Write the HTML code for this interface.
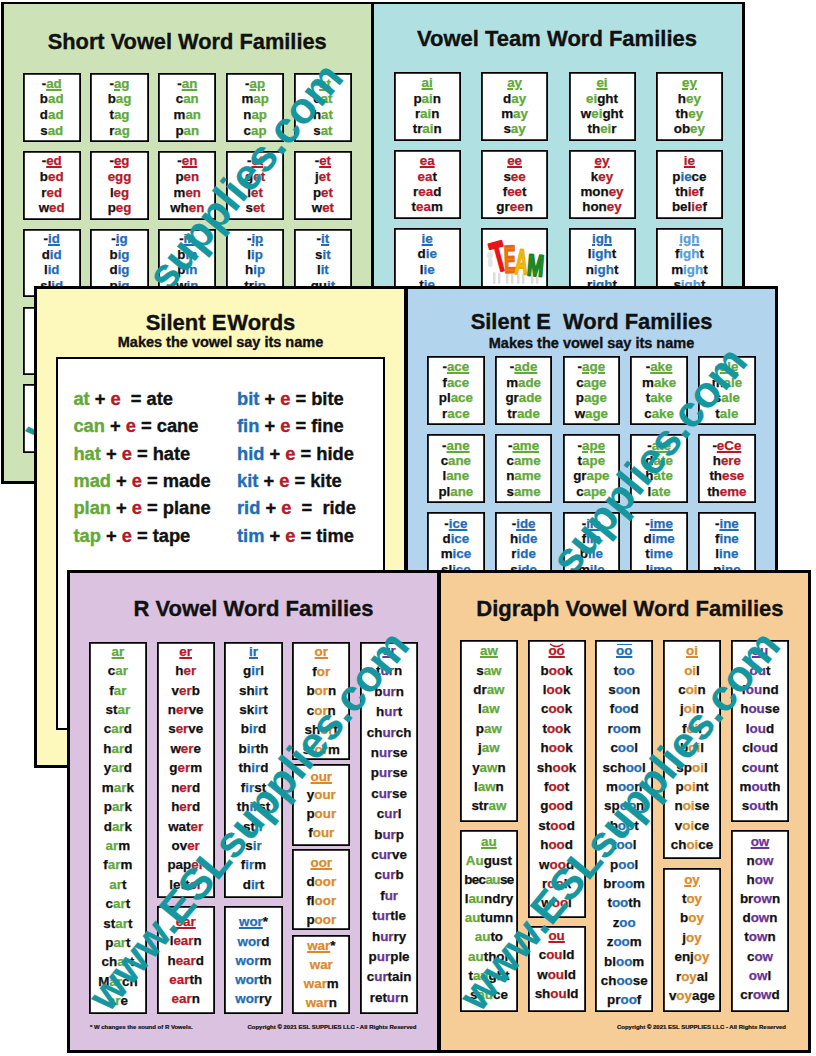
<!DOCTYPE html>
<html><head><meta charset="utf-8"><style>
html,body{margin:0;padding:0;background:#fff}
body{width:816px;height:1056px;position:relative;overflow:hidden;font-family:"Liberation Sans",sans-serif}
.tb{-webkit-text-stroke:0.25px}
.tt{-webkit-text-stroke:0.35px}
</style></head><body>
<div style="position:absolute;left:1px;top:2px;width:373px;height:482px;background:#cde3b7;box-sizing:border-box;z-index:1;overflow:hidden">
<div class="tt" style="position:absolute;left:-0.3px;width:100%;top:28.55px;text-align:center;font-size:21.8px;line-height:21.8px;font-weight:bold;color:#111;white-space:pre">Short Vowel Word Families</div>
<div style="position:absolute;left:21.50px;top:71.20px;width:58.40px;height:68.60px;box-shadow:inset 0 0 0 1.8px #000;background:#fff;box-sizing:border-box"></div>
<div class="tb" style="position:absolute;left:21.50px;top:73.57px;width:58.40px;text-align:center;font-size:13.3px;line-height:15.65px;font-weight:bold;color:#111;white-space:nowrap">
<div>-<span style="color:#62a93a;text-decoration:underline;text-decoration-thickness:1.5px;text-underline-offset:1.3px">ad</span></div>
<div>b<span style="color:#62a93a">ad</span></div>
<div>d<span style="color:#62a93a">ad</span></div>
<div>s<span style="color:#62a93a">ad</span></div>
</div>
<div style="position:absolute;left:89.30px;top:71.20px;width:58.40px;height:68.60px;box-shadow:inset 0 0 0 1.8px #000;background:#fff;box-sizing:border-box"></div>
<div class="tb" style="position:absolute;left:89.30px;top:73.57px;width:58.40px;text-align:center;font-size:13.3px;line-height:15.65px;font-weight:bold;color:#111;white-space:nowrap">
<div>-<span style="color:#62a93a;text-decoration:underline;text-decoration-thickness:1.5px;text-underline-offset:1.3px">ag</span></div>
<div>b<span style="color:#62a93a">ag</span></div>
<div>t<span style="color:#62a93a">ag</span></div>
<div>r<span style="color:#62a93a">ag</span></div>
</div>
<div style="position:absolute;left:157.10px;top:71.20px;width:58.40px;height:68.60px;box-shadow:inset 0 0 0 1.8px #000;background:#fff;box-sizing:border-box"></div>
<div class="tb" style="position:absolute;left:157.10px;top:73.57px;width:58.40px;text-align:center;font-size:13.3px;line-height:15.65px;font-weight:bold;color:#111;white-space:nowrap">
<div>-<span style="color:#62a93a;text-decoration:underline;text-decoration-thickness:1.5px;text-underline-offset:1.3px">an</span></div>
<div>c<span style="color:#62a93a">an</span></div>
<div>m<span style="color:#62a93a">an</span></div>
<div>p<span style="color:#62a93a">an</span></div>
</div>
<div style="position:absolute;left:224.90px;top:71.20px;width:58.40px;height:68.60px;box-shadow:inset 0 0 0 1.8px #000;background:#fff;box-sizing:border-box"></div>
<div class="tb" style="position:absolute;left:224.90px;top:73.57px;width:58.40px;text-align:center;font-size:13.3px;line-height:15.65px;font-weight:bold;color:#111;white-space:nowrap">
<div>-<span style="color:#62a93a;text-decoration:underline;text-decoration-thickness:1.5px;text-underline-offset:1.3px">ap</span></div>
<div>m<span style="color:#62a93a">ap</span></div>
<div>n<span style="color:#62a93a">ap</span></div>
<div>c<span style="color:#62a93a">ap</span></div>
</div>
<div style="position:absolute;left:292.70px;top:71.20px;width:58.40px;height:68.60px;box-shadow:inset 0 0 0 1.8px #000;background:#fff;box-sizing:border-box"></div>
<div class="tb" style="position:absolute;left:292.70px;top:73.57px;width:58.40px;text-align:center;font-size:13.3px;line-height:15.65px;font-weight:bold;color:#111;white-space:nowrap">
<div>-<span style="color:#62a93a;text-decoration:underline;text-decoration-thickness:1.5px;text-underline-offset:1.3px">at</span></div>
<div>c<span style="color:#62a93a">at</span></div>
<div>h<span style="color:#62a93a">at</span></div>
<div>s<span style="color:#62a93a">at</span></div>
</div>
<div style="position:absolute;left:21.50px;top:149.00px;width:58.40px;height:68.60px;box-shadow:inset 0 0 0 1.8px #000;background:#fff;box-sizing:border-box"></div>
<div class="tb" style="position:absolute;left:21.50px;top:151.37px;width:58.40px;text-align:center;font-size:13.3px;line-height:15.65px;font-weight:bold;color:#111;white-space:nowrap">
<div>-<span style="color:#b41a28;text-decoration:underline;text-decoration-thickness:1.5px;text-underline-offset:1.3px">ed</span></div>
<div>b<span style="color:#b41a28">ed</span></div>
<div>r<span style="color:#b41a28">ed</span></div>
<div>w<span style="color:#b41a28">ed</span></div>
</div>
<div style="position:absolute;left:89.30px;top:149.00px;width:58.40px;height:68.60px;box-shadow:inset 0 0 0 1.8px #000;background:#fff;box-sizing:border-box"></div>
<div class="tb" style="position:absolute;left:89.30px;top:151.37px;width:58.40px;text-align:center;font-size:13.3px;line-height:15.65px;font-weight:bold;color:#111;white-space:nowrap">
<div>-<span style="color:#b41a28;text-decoration:underline;text-decoration-thickness:1.5px;text-underline-offset:1.3px">eg</span></div>
<div><span style="color:#b41a28">egg</span></div>
<div>l<span style="color:#b41a28">eg</span></div>
<div>p<span style="color:#b41a28">eg</span></div>
</div>
<div style="position:absolute;left:157.10px;top:149.00px;width:58.40px;height:68.60px;box-shadow:inset 0 0 0 1.8px #000;background:#fff;box-sizing:border-box"></div>
<div class="tb" style="position:absolute;left:157.10px;top:151.37px;width:58.40px;text-align:center;font-size:13.3px;line-height:15.65px;font-weight:bold;color:#111;white-space:nowrap">
<div>-<span style="color:#b41a28;text-decoration:underline;text-decoration-thickness:1.5px;text-underline-offset:1.3px">en</span></div>
<div>p<span style="color:#b41a28">en</span></div>
<div>m<span style="color:#b41a28">en</span></div>
<div>wh<span style="color:#b41a28">en</span></div>
</div>
<div style="position:absolute;left:224.90px;top:149.00px;width:58.40px;height:68.60px;box-shadow:inset 0 0 0 1.8px #000;background:#fff;box-sizing:border-box"></div>
<div class="tb" style="position:absolute;left:224.90px;top:151.37px;width:58.40px;text-align:center;font-size:13.3px;line-height:15.65px;font-weight:bold;color:#111;white-space:nowrap">
<div>-<span style="color:#b41a28;text-decoration:underline;text-decoration-thickness:1.5px;text-underline-offset:1.3px">et</span></div>
<div>g<span style="color:#b41a28">et</span></div>
<div>l<span style="color:#b41a28">et</span></div>
<div>s<span style="color:#b41a28">et</span></div>
</div>
<div style="position:absolute;left:292.70px;top:149.00px;width:58.40px;height:68.60px;box-shadow:inset 0 0 0 1.8px #000;background:#fff;box-sizing:border-box"></div>
<div class="tb" style="position:absolute;left:292.70px;top:151.37px;width:58.40px;text-align:center;font-size:13.3px;line-height:15.65px;font-weight:bold;color:#111;white-space:nowrap">
<div>-<span style="color:#b41a28;text-decoration:underline;text-decoration-thickness:1.5px;text-underline-offset:1.3px">et</span></div>
<div>j<span style="color:#b41a28">et</span></div>
<div>p<span style="color:#b41a28">et</span></div>
<div>w<span style="color:#b41a28">et</span></div>
</div>
<div style="position:absolute;left:21.50px;top:226.80px;width:58.40px;height:68.60px;box-shadow:inset 0 0 0 1.8px #000;background:#fff;box-sizing:border-box"></div>
<div class="tb" style="position:absolute;left:21.50px;top:229.17px;width:58.40px;text-align:center;font-size:13.3px;line-height:15.65px;font-weight:bold;color:#111;white-space:nowrap">
<div>-<span style="color:#1f6db4;text-decoration:underline;text-decoration-thickness:1.5px;text-underline-offset:1.3px">id</span></div>
<div>d<span style="color:#1f6db4">id</span></div>
<div>l<span style="color:#1f6db4">id</span></div>
<div>sl<span style="color:#1f6db4">id</span></div>
</div>
<div style="position:absolute;left:89.30px;top:226.80px;width:58.40px;height:68.60px;box-shadow:inset 0 0 0 1.8px #000;background:#fff;box-sizing:border-box"></div>
<div class="tb" style="position:absolute;left:89.30px;top:229.17px;width:58.40px;text-align:center;font-size:13.3px;line-height:15.65px;font-weight:bold;color:#111;white-space:nowrap">
<div>-<span style="color:#1f6db4;text-decoration:underline;text-decoration-thickness:1.5px;text-underline-offset:1.3px">ig</span></div>
<div>b<span style="color:#1f6db4">ig</span></div>
<div>d<span style="color:#1f6db4">ig</span></div>
<div>p<span style="color:#1f6db4">ig</span></div>
</div>
<div style="position:absolute;left:157.10px;top:226.80px;width:58.40px;height:68.60px;box-shadow:inset 0 0 0 1.8px #000;background:#fff;box-sizing:border-box"></div>
<div class="tb" style="position:absolute;left:157.10px;top:229.17px;width:58.40px;text-align:center;font-size:13.3px;line-height:15.65px;font-weight:bold;color:#111;white-space:nowrap">
<div>-<span style="color:#1f6db4;text-decoration:underline;text-decoration-thickness:1.5px;text-underline-offset:1.3px">in</span></div>
<div>b<span style="color:#1f6db4">in</span></div>
<div>p<span style="color:#1f6db4">in</span></div>
<div>w<span style="color:#1f6db4">in</span></div>
</div>
<div style="position:absolute;left:224.90px;top:226.80px;width:58.40px;height:68.60px;box-shadow:inset 0 0 0 1.8px #000;background:#fff;box-sizing:border-box"></div>
<div class="tb" style="position:absolute;left:224.90px;top:229.17px;width:58.40px;text-align:center;font-size:13.3px;line-height:15.65px;font-weight:bold;color:#111;white-space:nowrap">
<div>-<span style="color:#1f6db4;text-decoration:underline;text-decoration-thickness:1.5px;text-underline-offset:1.3px">ip</span></div>
<div>l<span style="color:#1f6db4">ip</span></div>
<div>h<span style="color:#1f6db4">ip</span></div>
<div>tr<span style="color:#1f6db4">ip</span></div>
</div>
<div style="position:absolute;left:292.70px;top:226.80px;width:58.40px;height:68.60px;box-shadow:inset 0 0 0 1.8px #000;background:#fff;box-sizing:border-box"></div>
<div class="tb" style="position:absolute;left:292.70px;top:229.17px;width:58.40px;text-align:center;font-size:13.3px;line-height:15.65px;font-weight:bold;color:#111;white-space:nowrap">
<div>-<span style="color:#1f6db4;text-decoration:underline;text-decoration-thickness:1.5px;text-underline-offset:1.3px">it</span></div>
<div>s<span style="color:#1f6db4">it</span></div>
<div>l<span style="color:#1f6db4">it</span></div>
<div>qu<span style="color:#1f6db4">it</span></div>
</div>
<div style="position:absolute;left:21.50px;top:304.60px;width:58.40px;height:68.60px;box-shadow:inset 0 0 0 1.8px #000;background:#fff;box-sizing:border-box"></div>
<div class="tb" style="position:absolute;left:21.50px;top:306.97px;width:58.40px;text-align:center;font-size:13.3px;line-height:15.65px;font-weight:bold;color:#111;white-space:nowrap">
<div>-<span style="color:#62a93a;text-decoration:underline;text-decoration-thickness:1.5px;text-underline-offset:1.3px">og</span></div>
<div>d<span style="color:#62a93a">og</span></div>
<div>l<span style="color:#62a93a">og</span></div>
<div>fr<span style="color:#62a93a">og</span></div>
</div>
<div style="position:absolute;left:89.30px;top:304.60px;width:58.40px;height:68.60px;box-shadow:inset 0 0 0 1.8px #000;background:#fff;box-sizing:border-box"></div>
<div class="tb" style="position:absolute;left:89.30px;top:306.97px;width:58.40px;text-align:center;font-size:13.3px;line-height:15.65px;font-weight:bold;color:#111;white-space:nowrap">
<div>-<span style="color:#62a93a;text-decoration:underline;text-decoration-thickness:1.5px;text-underline-offset:1.3px">og</span></div>
<div>d<span style="color:#62a93a">og</span></div>
<div>l<span style="color:#62a93a">og</span></div>
<div>fr<span style="color:#62a93a">og</span></div>
</div>
<div style="position:absolute;left:157.10px;top:304.60px;width:58.40px;height:68.60px;box-shadow:inset 0 0 0 1.8px #000;background:#fff;box-sizing:border-box"></div>
<div class="tb" style="position:absolute;left:157.10px;top:306.97px;width:58.40px;text-align:center;font-size:13.3px;line-height:15.65px;font-weight:bold;color:#111;white-space:nowrap">
<div>-<span style="color:#62a93a;text-decoration:underline;text-decoration-thickness:1.5px;text-underline-offset:1.3px">og</span></div>
<div>d<span style="color:#62a93a">og</span></div>
<div>l<span style="color:#62a93a">og</span></div>
<div>fr<span style="color:#62a93a">og</span></div>
</div>
<div style="position:absolute;left:224.90px;top:304.60px;width:58.40px;height:68.60px;box-shadow:inset 0 0 0 1.8px #000;background:#fff;box-sizing:border-box"></div>
<div class="tb" style="position:absolute;left:224.90px;top:306.97px;width:58.40px;text-align:center;font-size:13.3px;line-height:15.65px;font-weight:bold;color:#111;white-space:nowrap">
<div>-<span style="color:#62a93a;text-decoration:underline;text-decoration-thickness:1.5px;text-underline-offset:1.3px">og</span></div>
<div>d<span style="color:#62a93a">og</span></div>
<div>l<span style="color:#62a93a">og</span></div>
<div>fr<span style="color:#62a93a">og</span></div>
</div>
<div style="position:absolute;left:292.70px;top:304.60px;width:58.40px;height:68.60px;box-shadow:inset 0 0 0 1.8px #000;background:#fff;box-sizing:border-box"></div>
<div class="tb" style="position:absolute;left:292.70px;top:306.97px;width:58.40px;text-align:center;font-size:13.3px;line-height:15.65px;font-weight:bold;color:#111;white-space:nowrap">
<div>-<span style="color:#62a93a;text-decoration:underline;text-decoration-thickness:1.5px;text-underline-offset:1.3px">og</span></div>
<div>d<span style="color:#62a93a">og</span></div>
<div>l<span style="color:#62a93a">og</span></div>
<div>fr<span style="color:#62a93a">og</span></div>
</div>
<div style="position:absolute;left:21.50px;top:382.40px;width:58.40px;height:68.60px;box-shadow:inset 0 0 0 1.8px #000;background:#fff;box-sizing:border-box"></div>
<div class="tb" style="position:absolute;left:21.50px;top:384.77px;width:58.40px;text-align:center;font-size:13.3px;line-height:15.65px;font-weight:bold;color:#111;white-space:nowrap">
<div>-<span style="color:#62a93a;text-decoration:underline;text-decoration-thickness:1.5px;text-underline-offset:1.3px">ug</span></div>
<div>b<span style="color:#62a93a">ug</span></div>
<div>m<span style="color:#62a93a">ug</span></div>
<div>r<span style="color:#62a93a">ug</span></div>
</div>
<div style="position:absolute;left:89.30px;top:382.40px;width:58.40px;height:68.60px;box-shadow:inset 0 0 0 1.8px #000;background:#fff;box-sizing:border-box"></div>
<div class="tb" style="position:absolute;left:89.30px;top:384.77px;width:58.40px;text-align:center;font-size:13.3px;line-height:15.65px;font-weight:bold;color:#111;white-space:nowrap">
<div>-<span style="color:#62a93a;text-decoration:underline;text-decoration-thickness:1.5px;text-underline-offset:1.3px">ug</span></div>
<div>b<span style="color:#62a93a">ug</span></div>
<div>m<span style="color:#62a93a">ug</span></div>
<div>r<span style="color:#62a93a">ug</span></div>
</div>
<div style="position:absolute;left:157.10px;top:382.40px;width:58.40px;height:68.60px;box-shadow:inset 0 0 0 1.8px #000;background:#fff;box-sizing:border-box"></div>
<div class="tb" style="position:absolute;left:157.10px;top:384.77px;width:58.40px;text-align:center;font-size:13.3px;line-height:15.65px;font-weight:bold;color:#111;white-space:nowrap">
<div>-<span style="color:#62a93a;text-decoration:underline;text-decoration-thickness:1.5px;text-underline-offset:1.3px">ug</span></div>
<div>b<span style="color:#62a93a">ug</span></div>
<div>m<span style="color:#62a93a">ug</span></div>
<div>r<span style="color:#62a93a">ug</span></div>
</div>
<div style="position:absolute;left:224.90px;top:382.40px;width:58.40px;height:68.60px;box-shadow:inset 0 0 0 1.8px #000;background:#fff;box-sizing:border-box"></div>
<div class="tb" style="position:absolute;left:224.90px;top:384.77px;width:58.40px;text-align:center;font-size:13.3px;line-height:15.65px;font-weight:bold;color:#111;white-space:nowrap">
<div>-<span style="color:#62a93a;text-decoration:underline;text-decoration-thickness:1.5px;text-underline-offset:1.3px">ug</span></div>
<div>b<span style="color:#62a93a">ug</span></div>
<div>m<span style="color:#62a93a">ug</span></div>
<div>r<span style="color:#62a93a">ug</span></div>
</div>
<div style="position:absolute;left:292.70px;top:382.40px;width:58.40px;height:68.60px;box-shadow:inset 0 0 0 1.8px #000;background:#fff;box-sizing:border-box"></div>
<div class="tb" style="position:absolute;left:292.70px;top:384.77px;width:58.40px;text-align:center;font-size:13.3px;line-height:15.65px;font-weight:bold;color:#111;white-space:nowrap">
<div>-<span style="color:#62a93a;text-decoration:underline;text-decoration-thickness:1.5px;text-underline-offset:1.3px">ug</span></div>
<div>b<span style="color:#62a93a">ug</span></div>
<div>m<span style="color:#62a93a">ug</span></div>
<div>r<span style="color:#62a93a">ug</span></div>
</div>
<div style="position:absolute;left:181.8px;top:251px;width:0;height:0;z-index:5"><div style="position:absolute;left:0;top:0;transform:translate(-50%,-50%) rotate(-50.5deg);font-size:43.6px;line-height:1;font-weight:bold;color:#16979f;-webkit-text-stroke:0.15px #16979f;white-space:nowrap">www.ESLsupplies.com</div></div>
<div style="position:absolute;left:0;top:0;right:0;bottom:0;border-style:solid;border-color:#000;border-width:2px 3px 3px 3px;z-index:9"></div>
</div>
<div style="position:absolute;left:372px;top:2px;width:373px;height:482px;background:#b1e0e3;box-sizing:border-box;z-index:1;overflow:hidden">
<div class="tt" style="position:absolute;left:-1.5px;width:100%;top:25.58px;text-align:center;font-size:22px;line-height:22px;font-weight:bold;color:#111;white-space:pre">Vowel Team Word Families</div>
<div style="position:absolute;left:21.70px;top:70.30px;width:67.00px;height:68.60px;box-shadow:inset 0 0 0 1.8px #000;background:#fff;box-sizing:border-box"></div>
<div class="tb" style="position:absolute;left:21.70px;top:73.26px;width:67.00px;text-align:center;font-size:13.4px;line-height:15.4px;font-weight:bold;color:#111;white-space:nowrap">
<div><span style="color:#62a93a;text-decoration:underline;text-decoration-thickness:1.5px;text-underline-offset:1.3px">ai</span></div>
<div>p<span style="color:#62a93a">ai</span>n</div>
<div>r<span style="color:#62a93a">ai</span>n</div>
<div>tr<span style="color:#62a93a">ai</span>n</div>
</div>
<div style="position:absolute;left:109.10px;top:70.30px;width:67.00px;height:68.60px;box-shadow:inset 0 0 0 1.8px #000;background:#fff;box-sizing:border-box"></div>
<div class="tb" style="position:absolute;left:109.10px;top:73.26px;width:67.00px;text-align:center;font-size:13.4px;line-height:15.4px;font-weight:bold;color:#111;white-space:nowrap">
<div><span style="color:#62a93a;text-decoration:underline;text-decoration-thickness:1.5px;text-underline-offset:1.3px">ay</span></div>
<div>d<span style="color:#62a93a">ay</span></div>
<div>m<span style="color:#62a93a">ay</span></div>
<div>s<span style="color:#62a93a">ay</span></div>
</div>
<div style="position:absolute;left:196.50px;top:70.30px;width:67.00px;height:68.60px;box-shadow:inset 0 0 0 1.8px #000;background:#fff;box-sizing:border-box"></div>
<div class="tb" style="position:absolute;left:196.50px;top:73.26px;width:67.00px;text-align:center;font-size:13.4px;line-height:15.4px;font-weight:bold;color:#111;white-space:nowrap">
<div><span style="color:#62a93a;text-decoration:underline;text-decoration-thickness:1.5px;text-underline-offset:1.3px">ei</span></div>
<div><span style="color:#62a93a">ei</span>ght</div>
<div>w<span style="color:#62a93a">ei</span>ght</div>
<div>th<span style="color:#62a93a">ei</span>r</div>
</div>
<div style="position:absolute;left:283.90px;top:70.30px;width:67.00px;height:68.60px;box-shadow:inset 0 0 0 1.8px #000;background:#fff;box-sizing:border-box"></div>
<div class="tb" style="position:absolute;left:283.90px;top:73.26px;width:67.00px;text-align:center;font-size:13.4px;line-height:15.4px;font-weight:bold;color:#111;white-space:nowrap">
<div><span style="color:#62a93a;text-decoration:underline;text-decoration-thickness:1.5px;text-underline-offset:1.3px">ey</span></div>
<div>h<span style="color:#62a93a">ey</span></div>
<div>th<span style="color:#62a93a">ey</span></div>
<div>ob<span style="color:#62a93a">ey</span></div>
</div>
<div style="position:absolute;left:21.70px;top:148.20px;width:67.00px;height:68.60px;box-shadow:inset 0 0 0 1.8px #000;background:#fff;box-sizing:border-box"></div>
<div class="tb" style="position:absolute;left:21.70px;top:151.16px;width:67.00px;text-align:center;font-size:13.4px;line-height:15.4px;font-weight:bold;color:#111;white-space:nowrap">
<div><span style="color:#b41a28;text-decoration:underline;text-decoration-thickness:1.5px;text-underline-offset:1.3px">ea</span></div>
<div><span style="color:#b41a28">ea</span>t</div>
<div>r<span style="color:#b41a28">ea</span>d</div>
<div>t<span style="color:#b41a28">ea</span>m</div>
</div>
<div style="position:absolute;left:109.10px;top:148.20px;width:67.00px;height:68.60px;box-shadow:inset 0 0 0 1.8px #000;background:#fff;box-sizing:border-box"></div>
<div class="tb" style="position:absolute;left:109.10px;top:151.16px;width:67.00px;text-align:center;font-size:13.4px;line-height:15.4px;font-weight:bold;color:#111;white-space:nowrap">
<div><span style="color:#b41a28;text-decoration:underline;text-decoration-thickness:1.5px;text-underline-offset:1.3px">ee</span></div>
<div>s<span style="color:#b41a28">ee</span></div>
<div>f<span style="color:#b41a28">ee</span>t</div>
<div>gr<span style="color:#b41a28">ee</span>n</div>
</div>
<div style="position:absolute;left:196.50px;top:148.20px;width:67.00px;height:68.60px;box-shadow:inset 0 0 0 1.8px #000;background:#fff;box-sizing:border-box"></div>
<div class="tb" style="position:absolute;left:196.50px;top:151.16px;width:67.00px;text-align:center;font-size:13.4px;line-height:15.4px;font-weight:bold;color:#111;white-space:nowrap">
<div><span style="color:#b41a28;text-decoration:underline;text-decoration-thickness:1.5px;text-underline-offset:1.3px">ey</span></div>
<div>k<span style="color:#b41a28">ey</span></div>
<div>mon<span style="color:#b41a28">ey</span></div>
<div>hon<span style="color:#b41a28">ey</span></div>
</div>
<div style="position:absolute;left:283.90px;top:148.20px;width:67.00px;height:68.60px;box-shadow:inset 0 0 0 1.8px #000;background:#fff;box-sizing:border-box"></div>
<div class="tb" style="position:absolute;left:283.90px;top:151.16px;width:67.00px;text-align:center;font-size:13.4px;line-height:15.4px;font-weight:bold;color:#111;white-space:nowrap">
<div><span style="color:#b41a28;text-decoration:underline;text-decoration-thickness:1.5px;text-underline-offset:1.3px">ie</span></div>
<div>p<span style="color:#1f6db4">ie</span>ce</div>
<div>th<span style="color:#b41a28">ie</span>f</div>
<div>bel<span style="color:#b41a28">ie</span>f</div>
</div>
<div style="position:absolute;left:21.70px;top:226.10px;width:67.00px;height:68.60px;box-shadow:inset 0 0 0 1.8px #000;background:#fff;box-sizing:border-box"></div>
<div class="tb" style="position:absolute;left:21.70px;top:229.06px;width:67.00px;text-align:center;font-size:13.4px;line-height:15.4px;font-weight:bold;color:#111;white-space:nowrap">
<div><span style="color:#1f6db4;text-decoration:underline;text-decoration-thickness:1.5px;text-underline-offset:1.3px">ie</span></div>
<div>d<span style="color:#1f6db4">ie</span></div>
<div>l<span style="color:#1f6db4">ie</span></div>
<div>t<span style="color:#1f6db4">ie</span></div>
</div>
<div style="position:absolute;left:109.10px;top:226.10px;width:67.00px;height:68.60px;box-shadow:inset 0 0 0 1.8px #000;background:#fff;box-sizing:border-box"></div>
<svg style="position:absolute;left:109.10000000000001px;top:226.10000000000002px" width="67" height="69" viewBox="0 0 67 69">
<g fill="#dcdcdc"><ellipse cx="9" cy="27" rx="3" ry="3.5" fill="#e4e4e4"/><rect x="7" y="30" width="4.5" height="9" rx="2" fill="#e4e4e4"/><rect x="12" y="44" width="2.5" height="12" rx="1.2"/><rect x="17" y="45" width="2.5" height="11" rx="1.2"/><rect x="25" y="45" width="2.5" height="11" rx="1.2"/><rect x="30" y="45" width="2.5" height="11" rx="1.2"/><rect x="36" y="46" width="2.5" height="10" rx="1.2"/><rect x="41" y="46" width="2.5" height="10" rx="1.2"/><rect x="50" y="47" width="2.5" height="9" rx="1.2"/><rect x="55" y="47" width="2.5" height="9" rx="1.2"/></g>
<text transform="translate(14.5,44.5) rotate(-15) scale(0.56,1)" font-family="Liberation Sans" font-weight="bold" font-size="42" fill="#e8141b" stroke="#e8141b" stroke-width="2.4" stroke-linejoin="round">T</text>
<text transform="translate(23.5,44.5) rotate(-2) scale(0.46,1)" font-family="Liberation Sans" font-weight="bold" font-size="38" fill="#f27b16" stroke="#e06a10" stroke-width="2.4" stroke-linejoin="round">E</text>
<text transform="translate(33.5,45.5) rotate(3) scale(0.5,1)" font-family="Liberation Sans" font-weight="bold" font-size="35" fill="#f4c10f" stroke="#e8b00a" stroke-width="2.4" stroke-linejoin="round">A</text>
<text transform="translate(45.5,47) rotate(5) scale(0.66,1)" font-family="Liberation Sans" font-weight="bold" font-size="30" fill="#23932a" stroke="#1c8424" stroke-width="2.2" stroke-linejoin="round">M</text>
</svg>
<div style="position:absolute;left:196.50px;top:226.10px;width:67.00px;height:68.60px;box-shadow:inset 0 0 0 1.8px #000;background:#fff;box-sizing:border-box"></div>
<div class="tb" style="position:absolute;left:196.50px;top:229.06px;width:67.00px;text-align:center;font-size:13.4px;line-height:15.4px;font-weight:bold;color:#111;white-space:nowrap">
<div><span style="color:#1f6db4;text-decoration:underline;text-decoration-thickness:1.5px;text-underline-offset:1.3px">igh</span></div>
<div>l<span style="color:#1f6db4">igh</span>t</div>
<div>n<span style="color:#1f6db4">igh</span>t</div>
<div>r<span style="color:#1f6db4">igh</span>t</div>
</div>
<div style="position:absolute;left:283.90px;top:226.10px;width:67.00px;height:68.60px;box-shadow:inset 0 0 0 1.8px #000;background:#fff;box-sizing:border-box"></div>
<div class="tb" style="position:absolute;left:283.90px;top:229.06px;width:67.00px;text-align:center;font-size:13.4px;line-height:15.4px;font-weight:bold;color:#111;white-space:nowrap">
<div><span style="color:#5b9bd5;text-decoration:underline;text-decoration-thickness:1.5px;text-underline-offset:1.3px">igh</span></div>
<div>f<span style="color:#5b9bd5">igh</span>t</div>
<div>m<span style="color:#5b9bd5">igh</span>t</div>
<div>s<span style="color:#5b9bd5">igh</span>t</div>
</div>
<div style="position:absolute;left:0;top:0;right:0;bottom:0;border-style:solid;border-color:#000;border-width:2px 3px 3px 2px;z-index:9"></div>
</div>
<div style="position:absolute;left:34px;top:286px;width:373px;height:482px;background:#fdf8bb;box-sizing:border-box;z-index:3;overflow:hidden">
<div class="tt" style="position:absolute;left:0px;width:100%;top:26.48px;text-align:center;font-size:22px;line-height:22px;font-weight:bold;color:#111;white-space:pre">Silent E<span style="margin-left:1px"></span>Words</div>
<div class="tt" style="position:absolute;left:0px;width:100%;top:48.93px;text-align:center;font-size:14.5px;line-height:14.5px;font-weight:bold;color:#111;white-space:pre">Makes the vowel say its name</div>
<div style="position:absolute;left:22.10px;top:71.30px;width:328.60px;height:372.40px;box-shadow:inset 0 0 0 2px #000;background:#fff;box-sizing:border-box"></div>
<div class="tt" style="position:absolute;left:39.4px;top:104.01px;font-size:18.3px;line-height:18.3px;font-weight:bold;color:#111;white-space:pre"><span style="color:#62a93a">at</span> + <span style="color:#b41a28">e</span>  = ate</div>
<div class="tt" style="position:absolute;left:39.4px;top:131.34px;font-size:18.3px;line-height:18.3px;font-weight:bold;color:#111;white-space:pre"><span style="color:#62a93a">can</span> + <span style="color:#b41a28">e</span> = cane</div>
<div class="tt" style="position:absolute;left:39.4px;top:158.67px;font-size:18.3px;line-height:18.3px;font-weight:bold;color:#111;white-space:pre"><span style="color:#62a93a">hat</span> + <span style="color:#b41a28">e</span> = hate</div>
<div class="tt" style="position:absolute;left:39.4px;top:186.00px;font-size:18.3px;line-height:18.3px;font-weight:bold;color:#111;white-space:pre"><span style="color:#62a93a">mad</span> + <span style="color:#b41a28">e</span> = made</div>
<div class="tt" style="position:absolute;left:39.4px;top:213.33px;font-size:18.3px;line-height:18.3px;font-weight:bold;color:#111;white-space:pre"><span style="color:#62a93a">plan</span> + <span style="color:#b41a28">e</span> = plane</div>
<div class="tt" style="position:absolute;left:39.4px;top:240.66px;font-size:18.3px;line-height:18.3px;font-weight:bold;color:#111;white-space:pre"><span style="color:#62a93a">tap</span> + <span style="color:#b41a28">e</span> = tape</div>
<div class="tt" style="position:absolute;left:203px;top:104.01px;font-size:18.3px;line-height:18.3px;font-weight:bold;color:#111;white-space:pre"><span style="color:#1f6db4">bit</span> + <span style="color:#b41a28">e</span> = bite</div>
<div class="tt" style="position:absolute;left:203px;top:131.34px;font-size:18.3px;line-height:18.3px;font-weight:bold;color:#111;white-space:pre"><span style="color:#1f6db4">fin</span> + <span style="color:#b41a28">e</span> = fine</div>
<div class="tt" style="position:absolute;left:203px;top:158.67px;font-size:18.3px;line-height:18.3px;font-weight:bold;color:#111;white-space:pre"><span style="color:#1f6db4">hid</span> + <span style="color:#b41a28">e</span> = hide</div>
<div class="tt" style="position:absolute;left:203px;top:186.00px;font-size:18.3px;line-height:18.3px;font-weight:bold;color:#111;white-space:pre"><span style="color:#1f6db4">kit</span> + <span style="color:#b41a28">e</span> = kite</div>
<div class="tt" style="position:absolute;left:203px;top:213.33px;font-size:18.3px;line-height:18.3px;font-weight:bold;color:#111;white-space:pre"><span style="color:#1f6db4">rid</span> + <span style="color:#b41a28">e</span>  =  ride</div>
<div class="tt" style="position:absolute;left:203px;top:240.66px;font-size:18.3px;line-height:18.3px;font-weight:bold;color:#111;white-space:pre"><span style="color:#1f6db4">tim</span> + <span style="color:#b41a28">e</span> = time</div>
<div style="position:absolute;left:0;top:0;right:0;bottom:0;border-style:solid;border-color:#000;border-width:3px 3px 3px 3px;z-index:9"></div>
</div>
<div style="position:absolute;left:405px;top:286px;width:373px;height:482px;background:#b2d4ed;box-sizing:border-box;z-index:3;overflow:hidden">
<div class="tt" style="position:absolute;left:0px;width:100%;top:25.46px;text-align:center;font-size:21.9px;line-height:21.9px;font-weight:bold;color:#111;white-space:pre">Silent E  Word Families</div>
<div class="tt" style="position:absolute;left:0px;width:100%;top:50.13px;text-align:center;font-size:14.5px;line-height:14.5px;font-weight:bold;color:#111;white-space:pre">Makes the vowel say its name</div>
<div style="position:absolute;left:22.10px;top:70.20px;width:57.50px;height:68.80px;box-shadow:inset 0 0 0 1.8px #000;background:#fff;box-sizing:border-box"></div>
<div class="tb" style="position:absolute;left:22.10px;top:73.47px;width:57.50px;text-align:center;font-size:13.35px;line-height:15.4px;font-weight:bold;color:#111;white-space:nowrap">
<div>-<span style="color:#62a93a;text-decoration:underline;text-decoration-thickness:1.5px;text-underline-offset:1.3px">ace</span></div>
<div>f<span style="color:#62a93a">ace</span></div>
<div>pl<span style="color:#62a93a">ace</span></div>
<div>r<span style="color:#62a93a">ace</span></div>
</div>
<div style="position:absolute;left:89.85px;top:70.20px;width:57.50px;height:68.80px;box-shadow:inset 0 0 0 1.8px #000;background:#fff;box-sizing:border-box"></div>
<div class="tb" style="position:absolute;left:89.85px;top:73.47px;width:57.50px;text-align:center;font-size:13.35px;line-height:15.4px;font-weight:bold;color:#111;white-space:nowrap">
<div>-<span style="color:#62a93a;text-decoration:underline;text-decoration-thickness:1.5px;text-underline-offset:1.3px">ade</span></div>
<div>m<span style="color:#62a93a">ade</span></div>
<div>gr<span style="color:#62a93a">ade</span></div>
<div>tr<span style="color:#62a93a">ade</span></div>
</div>
<div style="position:absolute;left:157.60px;top:70.20px;width:57.50px;height:68.80px;box-shadow:inset 0 0 0 1.8px #000;background:#fff;box-sizing:border-box"></div>
<div class="tb" style="position:absolute;left:157.60px;top:73.47px;width:57.50px;text-align:center;font-size:13.35px;line-height:15.4px;font-weight:bold;color:#111;white-space:nowrap">
<div>-<span style="color:#62a93a;text-decoration:underline;text-decoration-thickness:1.5px;text-underline-offset:1.3px">age</span></div>
<div>c<span style="color:#62a93a">age</span></div>
<div>p<span style="color:#62a93a">age</span></div>
<div>w<span style="color:#62a93a">age</span></div>
</div>
<div style="position:absolute;left:225.35px;top:70.20px;width:57.50px;height:68.80px;box-shadow:inset 0 0 0 1.8px #000;background:#fff;box-sizing:border-box"></div>
<div class="tb" style="position:absolute;left:225.35px;top:73.47px;width:57.50px;text-align:center;font-size:13.35px;line-height:15.4px;font-weight:bold;color:#111;white-space:nowrap">
<div>-<span style="color:#62a93a;text-decoration:underline;text-decoration-thickness:1.5px;text-underline-offset:1.3px">ake</span></div>
<div>m<span style="color:#62a93a">ake</span></div>
<div>t<span style="color:#62a93a">ake</span></div>
<div>c<span style="color:#62a93a">ake</span></div>
</div>
<div style="position:absolute;left:293.10px;top:70.20px;width:57.50px;height:68.80px;box-shadow:inset 0 0 0 1.8px #000;background:#fff;box-sizing:border-box"></div>
<div class="tb" style="position:absolute;left:293.10px;top:73.47px;width:57.50px;text-align:center;font-size:13.35px;line-height:15.4px;font-weight:bold;color:#111;white-space:nowrap">
<div>-<span style="color:#62a93a;text-decoration:underline;text-decoration-thickness:1.5px;text-underline-offset:1.3px">ale</span></div>
<div>m<span style="color:#62a93a">ale</span></div>
<div>s<span style="color:#62a93a">ale</span></div>
<div>t<span style="color:#62a93a">ale</span></div>
</div>
<div style="position:absolute;left:22.10px;top:148.30px;width:57.50px;height:68.80px;box-shadow:inset 0 0 0 1.8px #000;background:#fff;box-sizing:border-box"></div>
<div class="tb" style="position:absolute;left:22.10px;top:151.57px;width:57.50px;text-align:center;font-size:13.35px;line-height:15.4px;font-weight:bold;color:#111;white-space:nowrap">
<div>-<span style="color:#62a93a;text-decoration:underline;text-decoration-thickness:1.5px;text-underline-offset:1.3px">ane</span></div>
<div>c<span style="color:#62a93a">ane</span></div>
<div>l<span style="color:#62a93a">ane</span></div>
<div>pl<span style="color:#62a93a">ane</span></div>
</div>
<div style="position:absolute;left:89.85px;top:148.30px;width:57.50px;height:68.80px;box-shadow:inset 0 0 0 1.8px #000;background:#fff;box-sizing:border-box"></div>
<div class="tb" style="position:absolute;left:89.85px;top:151.57px;width:57.50px;text-align:center;font-size:13.35px;line-height:15.4px;font-weight:bold;color:#111;white-space:nowrap">
<div>-<span style="color:#62a93a;text-decoration:underline;text-decoration-thickness:1.5px;text-underline-offset:1.3px">ame</span></div>
<div>c<span style="color:#62a93a">ame</span></div>
<div>n<span style="color:#62a93a">ame</span></div>
<div>s<span style="color:#62a93a">ame</span></div>
</div>
<div style="position:absolute;left:157.60px;top:148.30px;width:57.50px;height:68.80px;box-shadow:inset 0 0 0 1.8px #000;background:#fff;box-sizing:border-box"></div>
<div class="tb" style="position:absolute;left:157.60px;top:151.57px;width:57.50px;text-align:center;font-size:13.35px;line-height:15.4px;font-weight:bold;color:#111;white-space:nowrap">
<div>-<span style="color:#62a93a;text-decoration:underline;text-decoration-thickness:1.5px;text-underline-offset:1.3px">ape</span></div>
<div>t<span style="color:#62a93a">ape</span></div>
<div>gr<span style="color:#62a93a">ape</span></div>
<div>c<span style="color:#62a93a">ape</span></div>
</div>
<div style="position:absolute;left:225.35px;top:148.30px;width:57.50px;height:68.80px;box-shadow:inset 0 0 0 1.8px #000;background:#fff;box-sizing:border-box"></div>
<div class="tb" style="position:absolute;left:225.35px;top:151.57px;width:57.50px;text-align:center;font-size:13.35px;line-height:15.4px;font-weight:bold;color:#111;white-space:nowrap">
<div>-<span style="color:#62a93a;text-decoration:underline;text-decoration-thickness:1.5px;text-underline-offset:1.3px">ate</span></div>
<div>d<span style="color:#62a93a">ate</span></div>
<div>h<span style="color:#62a93a">ate</span></div>
<div>l<span style="color:#62a93a">ate</span></div>
</div>
<div style="position:absolute;left:293.10px;top:148.30px;width:57.50px;height:68.80px;box-shadow:inset 0 0 0 1.8px #000;background:#fff;box-sizing:border-box"></div>
<div class="tb" style="position:absolute;left:293.10px;top:151.57px;width:57.50px;text-align:center;font-size:13.35px;line-height:15.4px;font-weight:bold;color:#111;white-space:nowrap">
<div>-<span style="color:#b41a28;text-decoration:underline;text-decoration-thickness:1.5px;text-underline-offset:1.3px">eCe</span></div>
<div>h<span style="color:#b41a28">ere</span></div>
<div>th<span style="color:#b41a28">ese</span></div>
<div>th<span style="color:#b41a28">eme</span></div>
</div>
<div style="position:absolute;left:22.10px;top:226.40px;width:57.50px;height:68.80px;box-shadow:inset 0 0 0 1.8px #000;background:#fff;box-sizing:border-box"></div>
<div class="tb" style="position:absolute;left:22.10px;top:229.67px;width:57.50px;text-align:center;font-size:13.35px;line-height:15.4px;font-weight:bold;color:#111;white-space:nowrap">
<div>-<span style="color:#1f6db4;text-decoration:underline;text-decoration-thickness:1.5px;text-underline-offset:1.3px">ice</span></div>
<div>d<span style="color:#1f6db4">ice</span></div>
<div>m<span style="color:#1f6db4">ice</span></div>
<div>sl<span style="color:#1f6db4">ice</span></div>
</div>
<div style="position:absolute;left:89.85px;top:226.40px;width:57.50px;height:68.80px;box-shadow:inset 0 0 0 1.8px #000;background:#fff;box-sizing:border-box"></div>
<div class="tb" style="position:absolute;left:89.85px;top:229.67px;width:57.50px;text-align:center;font-size:13.35px;line-height:15.4px;font-weight:bold;color:#111;white-space:nowrap">
<div>-<span style="color:#1f6db4;text-decoration:underline;text-decoration-thickness:1.5px;text-underline-offset:1.3px">ide</span></div>
<div>h<span style="color:#1f6db4">ide</span></div>
<div>r<span style="color:#1f6db4">ide</span></div>
<div>s<span style="color:#1f6db4">ide</span></div>
</div>
<div style="position:absolute;left:157.60px;top:226.40px;width:57.50px;height:68.80px;box-shadow:inset 0 0 0 1.8px #000;background:#fff;box-sizing:border-box"></div>
<div class="tb" style="position:absolute;left:157.60px;top:229.67px;width:57.50px;text-align:center;font-size:13.35px;line-height:15.4px;font-weight:bold;color:#111;white-space:nowrap">
<div>-<span style="color:#1f6db4;text-decoration:underline;text-decoration-thickness:1.5px;text-underline-offset:1.3px">ile</span></div>
<div>f<span style="color:#1f6db4">ile</span></div>
<div>b<span style="color:#1f6db4">ile</span></div>
<div>m<span style="color:#1f6db4">ile</span></div>
</div>
<div style="position:absolute;left:225.35px;top:226.40px;width:57.50px;height:68.80px;box-shadow:inset 0 0 0 1.8px #000;background:#fff;box-sizing:border-box"></div>
<div class="tb" style="position:absolute;left:225.35px;top:229.67px;width:57.50px;text-align:center;font-size:13.35px;line-height:15.4px;font-weight:bold;color:#111;white-space:nowrap">
<div>-<span style="color:#1f6db4;text-decoration:underline;text-decoration-thickness:1.5px;text-underline-offset:1.3px">ime</span></div>
<div>d<span style="color:#1f6db4">ime</span></div>
<div>t<span style="color:#1f6db4">ime</span></div>
<div>l<span style="color:#1f6db4">ime</span></div>
</div>
<div style="position:absolute;left:293.10px;top:226.40px;width:57.50px;height:68.80px;box-shadow:inset 0 0 0 1.8px #000;background:#fff;box-sizing:border-box"></div>
<div class="tb" style="position:absolute;left:293.10px;top:229.67px;width:57.50px;text-align:center;font-size:13.35px;line-height:15.4px;font-weight:bold;color:#111;white-space:nowrap">
<div>-<span style="color:#1f6db4;text-decoration:underline;text-decoration-thickness:1.5px;text-underline-offset:1.3px">ine</span></div>
<div>f<span style="color:#1f6db4">ine</span></div>
<div>l<span style="color:#1f6db4">ine</span></div>
<div>n<span style="color:#1f6db4">ine</span></div>
</div>
<div style="position:absolute;left:181.8px;top:251px;width:0;height:0;z-index:5"><div style="position:absolute;left:0;top:0;transform:translate(-50%,-50%) rotate(-50.5deg);font-size:43.6px;line-height:1;font-weight:bold;color:#16979f;-webkit-text-stroke:0.15px #16979f;white-space:nowrap">www.ESLsupplies.com</div></div>
<div style="position:absolute;left:0;top:0;right:0;bottom:0;border-style:solid;border-color:#000;border-width:3px 3px 3px 3px;z-index:9"></div>
</div>
<div style="position:absolute;left:67px;top:570px;width:373px;height:483px;background:#dbc2e0;box-sizing:border-box;z-index:5;overflow:hidden">
<div class="tt" style="position:absolute;left:0px;width:100%;top:28.18px;text-align:center;font-size:22px;line-height:22px;font-weight:bold;color:#111;white-space:pre">R Vowel Word Families</div>
<div style="position:absolute;left:21.80px;top:72.00px;width:58.20px;height:371.50px;box-shadow:inset 0 0 0 1.8px #000;background:#fff;box-sizing:border-box"></div>
<div class="tb" style="position:absolute;left:21.80px;top:71.85px;width:58.20px;text-align:center;font-size:13.4px;line-height:19.41px;font-weight:bold;color:#111;white-space:nowrap">
<div><span style="color:#62a93a;text-decoration:underline;text-decoration-thickness:1.5px;text-underline-offset:1.3px">ar</span></div>
<div>c<span style="color:#62a93a">ar</span></div>
<div>f<span style="color:#62a93a">ar</span></div>
<div>st<span style="color:#62a93a">ar</span></div>
<div>c<span style="color:#62a93a">ar</span>d</div>
<div>h<span style="color:#62a93a">ar</span>d</div>
<div>y<span style="color:#62a93a">ar</span>d</div>
<div>m<span style="color:#62a93a">ar</span>k</div>
<div>p<span style="color:#62a93a">ar</span>k</div>
<div>d<span style="color:#62a93a">ar</span>k</div>
<div><span style="color:#62a93a">ar</span>m</div>
<div>f<span style="color:#62a93a">ar</span>m</div>
<div><span style="color:#62a93a">ar</span>t</div>
<div>c<span style="color:#62a93a">ar</span>t</div>
<div>st<span style="color:#62a93a">ar</span>t</div>
<div>p<span style="color:#62a93a">ar</span>t</div>
<div>ch<span style="color:#62a93a">ar</span>t</div>
<div>M<span style="color:#62a93a">ar</span>ch</div>
<div><span style="color:#62a93a">ar</span>e</div>
</div>
<div style="position:absolute;left:89.60px;top:72.00px;width:58.20px;height:255.50px;box-shadow:inset 0 0 0 1.8px #000;background:#fff;box-sizing:border-box"></div>
<div class="tb" style="position:absolute;left:89.60px;top:71.85px;width:58.20px;text-align:center;font-size:13.4px;line-height:19.41px;font-weight:bold;color:#111;white-space:nowrap">
<div><span style="color:#b41a28;text-decoration:underline;text-decoration-thickness:1.5px;text-underline-offset:1.3px">er</span></div>
<div>h<span style="color:#b41a28">er</span></div>
<div>v<span style="color:#b41a28">er</span>b</div>
<div>n<span style="color:#b41a28">er</span>ve</div>
<div>s<span style="color:#b41a28">er</span>ve</div>
<div>w<span style="color:#b41a28">er</span>e</div>
<div>g<span style="color:#b41a28">er</span>m</div>
<div>n<span style="color:#b41a28">er</span>d</div>
<div>h<span style="color:#b41a28">er</span>d</div>
<div>wat<span style="color:#b41a28">er</span></div>
<div>ov<span style="color:#b41a28">er</span></div>
<div>pap<span style="color:#b41a28">er</span></div>
<div>lett<span style="color:#b41a28">er</span></div>
</div>
<div style="position:absolute;left:89.60px;top:336.00px;width:58.20px;height:107.50px;box-shadow:inset 0 0 0 1.8px #000;background:#fff;box-sizing:border-box"></div>
<div class="tb" style="position:absolute;left:89.60px;top:342.23px;width:58.20px;text-align:center;font-size:13.4px;line-height:19.25px;font-weight:bold;color:#111;white-space:nowrap">
<div><span style="color:#b41a28;text-decoration:underline;text-decoration-thickness:1.5px;text-underline-offset:1.3px">ear</span></div>
<div>l<span style="color:#b41a28">ear</span>n</div>
<div>h<span style="color:#b41a28">ear</span>d</div>
<div><span style="color:#b41a28">ear</span>th</div>
<div><span style="color:#b41a28">ear</span>n</div>
</div>
<div style="position:absolute;left:157.40px;top:72.00px;width:58.20px;height:255.50px;box-shadow:inset 0 0 0 1.8px #000;background:#fff;box-sizing:border-box"></div>
<div class="tb" style="position:absolute;left:157.40px;top:71.85px;width:58.20px;text-align:center;font-size:13.4px;line-height:19.41px;font-weight:bold;color:#111;white-space:nowrap">
<div><span style="color:#1f6db4;text-decoration:underline;text-decoration-thickness:1.5px;text-underline-offset:1.3px">ir</span></div>
<div>g<span style="color:#1f6db4">ir</span>l</div>
<div>sh<span style="color:#1f6db4">ir</span>t</div>
<div>sk<span style="color:#1f6db4">ir</span>t</div>
<div>b<span style="color:#1f6db4">ir</span>d</div>
<div>b<span style="color:#1f6db4">ir</span>th</div>
<div>th<span style="color:#1f6db4">ir</span>d</div>
<div>f<span style="color:#1f6db4">ir</span>st</div>
<div>th<span style="color:#1f6db4">ir</span>st</div>
<div>st<span style="color:#1f6db4">ir</span></div>
<div>s<span style="color:#1f6db4">ir</span></div>
<div>f<span style="color:#1f6db4">ir</span>m</div>
<div>d<span style="color:#1f6db4">ir</span>t</div>
</div>
<div style="position:absolute;left:157.40px;top:336.00px;width:58.20px;height:107.50px;box-shadow:inset 0 0 0 1.8px #000;background:#fff;box-sizing:border-box"></div>
<div class="tb" style="position:absolute;left:157.40px;top:342.43px;width:58.20px;text-align:center;font-size:13.4px;line-height:19.25px;font-weight:bold;color:#111;white-space:nowrap">
<div><span style="color:#1f6db4;text-decoration:underline;text-decoration-thickness:1.5px;text-underline-offset:1.3px">wor</span>*</div>
<div><span style="color:#1f6db4">wor</span>d</div>
<div><span style="color:#1f6db4">wor</span>m</div>
<div><span style="color:#1f6db4">wor</span>th</div>
<div><span style="color:#1f6db4">wor</span>ry</div>
</div>
<div style="position:absolute;left:225.20px;top:72.00px;width:58.20px;height:118.00px;box-shadow:inset 0 0 0 1.8px #000;background:#fff;box-sizing:border-box"></div>
<div class="tb" style="position:absolute;left:225.20px;top:72.21px;width:58.20px;text-align:center;font-size:13.4px;line-height:19.5px;font-weight:bold;color:#111;white-space:nowrap">
<div><span style="color:#d98b2c;text-decoration:underline;text-decoration-thickness:1.5px;text-underline-offset:1.3px">or</span></div>
<div>f<span style="color:#d98b2c">or</span></div>
<div>b<span style="color:#d98b2c">or</span>n</div>
<div>c<span style="color:#d98b2c">or</span>n</div>
<div>sh<span style="color:#d98b2c">or</span>t</div>
<div>st<span style="color:#d98b2c">or</span>m</div>
</div>
<div style="position:absolute;left:225.20px;top:194.40px;width:58.20px;height:81.40px;box-shadow:inset 0 0 0 1.8px #000;background:#fff;box-sizing:border-box"></div>
<div class="tb" style="position:absolute;left:225.20px;top:197.56px;width:58.20px;text-align:center;font-size:13.4px;line-height:18.8px;font-weight:bold;color:#111;white-space:nowrap">
<div><span style="color:#d98b2c;text-decoration:underline;text-decoration-thickness:1.5px;text-underline-offset:1.3px">our</span></div>
<div>y<span style="color:#d98b2c">our</span></div>
<div>p<span style="color:#d98b2c">our</span></div>
<div>f<span style="color:#d98b2c">our</span></div>
</div>
<div style="position:absolute;left:225.20px;top:278.80px;width:58.20px;height:81.70px;box-shadow:inset 0 0 0 1.8px #000;background:#fff;box-sizing:border-box"></div>
<div class="tb" style="position:absolute;left:225.20px;top:282.76px;width:58.20px;text-align:center;font-size:13.4px;line-height:19.0px;font-weight:bold;color:#111;white-space:nowrap">
<div><span style="color:#d98b2c;text-decoration:underline;text-decoration-thickness:1.5px;text-underline-offset:1.3px">oor</span></div>
<div>d<span style="color:#d98b2c">oor</span></div>
<div>fl<span style="color:#d98b2c">oor</span></div>
<div>p<span style="color:#d98b2c">oor</span></div>
</div>
<div style="position:absolute;left:225.20px;top:364.50px;width:58.20px;height:79.00px;box-shadow:inset 0 0 0 1.8px #000;background:#fff;box-sizing:border-box"></div>
<div class="tb" style="position:absolute;left:225.20px;top:365.66px;width:58.20px;text-align:center;font-size:13.4px;line-height:19.0px;font-weight:bold;color:#111;white-space:nowrap">
<div><span style="color:#d98b2c;text-decoration:underline;text-decoration-thickness:1.5px;text-underline-offset:1.3px">war</span>*</div>
<div><span style="color:#d98b2c">war</span></div>
<div><span style="color:#d98b2c">war</span>m</div>
<div><span style="color:#d98b2c">war</span>n</div>
</div>
<div style="position:absolute;left:293.00px;top:72.00px;width:58.20px;height:371.50px;box-shadow:inset 0 0 0 1.8px #000;background:#fff;box-sizing:border-box"></div>
<div class="tb" style="position:absolute;left:293.00px;top:70.96px;width:58.20px;text-align:center;font-size:13.4px;line-height:20.4px;font-weight:bold;color:#111;white-space:nowrap">
<div><span style="color:#6a3396;text-decoration:underline;text-decoration-thickness:1.5px;text-underline-offset:1.3px">ur</span></div>
<div>t<span style="color:#6a3396">ur</span>n</div>
<div>b<span style="color:#6a3396">ur</span>n</div>
<div>h<span style="color:#6a3396">ur</span>t</div>
<div>ch<span style="color:#6a3396">ur</span>ch</div>
<div>n<span style="color:#6a3396">ur</span>se</div>
<div>p<span style="color:#6a3396">ur</span>se</div>
<div>c<span style="color:#6a3396">ur</span>se</div>
<div>c<span style="color:#6a3396">ur</span>l</div>
<div>b<span style="color:#6a3396">ur</span>p</div>
<div>c<span style="color:#6a3396">ur</span>ve</div>
<div>c<span style="color:#6a3396">ur</span>b</div>
<div>f<span style="color:#6a3396">ur</span></div>
<div>t<span style="color:#6a3396">ur</span>tle</div>
<div>h<span style="color:#6a3396">ur</span>ry</div>
<div>p<span style="color:#6a3396">ur</span>ple</div>
<div>c<span style="color:#6a3396">ur</span>tain</div>
<div>ret<span style="color:#6a3396">ur</span>n</div>
</div>
<div style="position:absolute;left:22.9px;top:453.72px;font-size:6px;line-height:6px;font-weight:bold;color:#111;white-space:pre;-webkit-text-stroke:0.2px">* W changes the sound of R Vowels.</div>
<div style="position:absolute;left:180.4px;top:453.72px;font-size:6px;line-height:6px;font-weight:bold;color:#111;white-space:pre;-webkit-text-stroke:0.2px">Copyright © 2021 ESL SUPPLIES LLC - All Rights Reserved</div>
<div style="position:absolute;left:181.8px;top:251px;width:0;height:0;z-index:5"><div style="position:absolute;left:0;top:0;transform:translate(-50%,-50%) rotate(-50.5deg);font-size:43.6px;line-height:1;font-weight:bold;color:#16979f;-webkit-text-stroke:0.15px #16979f;white-space:nowrap">www.ESLsupplies.com</div></div>
<div style="position:absolute;left:0;top:0;right:0;bottom:0;border-style:solid;border-color:#000;border-width:3px 3px 3px 3px;z-index:9"></div>
</div>
<div style="position:absolute;left:438px;top:570px;width:373px;height:483px;background:#f6cd97;box-sizing:border-box;z-index:5;overflow:hidden">
<div class="tt" style="position:absolute;left:38.3px;top:27.98px;font-size:22px;line-height:22px;font-weight:bold;color:#111;white-space:pre">Digraph Vowel Word Families</div>
<div style="position:absolute;left:21.80px;top:70.20px;width:58.20px;height:181.70px;box-shadow:inset 0 0 0 1.8px #000;background:#fff;box-sizing:border-box"></div>
<div class="tb" style="position:absolute;left:21.80px;top:71.16px;width:58.20px;text-align:center;font-size:13.4px;line-height:19.4px;font-weight:bold;color:#111;white-space:nowrap">
<div><span style="color:#62a93a;text-decoration:underline;text-decoration-thickness:1.5px;text-underline-offset:1.3px">aw</span></div>
<div>s<span style="color:#62a93a">aw</span></div>
<div>dr<span style="color:#62a93a">aw</span></div>
<div>l<span style="color:#62a93a">aw</span></div>
<div>p<span style="color:#62a93a">aw</span></div>
<div>j<span style="color:#62a93a">aw</span></div>
<div>y<span style="color:#62a93a">aw</span>n</div>
<div>l<span style="color:#62a93a">aw</span>n</div>
<div>str<span style="color:#62a93a">aw</span></div>
</div>
<div style="position:absolute;left:21.80px;top:259.80px;width:58.20px;height:181.80px;box-shadow:inset 0 0 0 1.8px #000;background:#fff;box-sizing:border-box"></div>
<div class="tb" style="position:absolute;left:21.80px;top:262.01px;width:58.20px;text-align:center;font-size:13.4px;line-height:19.1px;font-weight:bold;color:#111;white-space:nowrap">
<div><span style="color:#62a93a;text-decoration:underline;text-decoration-thickness:1.5px;text-underline-offset:1.3px">au</span></div>
<div><span style="color:#62a93a">Au</span>gust</div>
<div style="letter-spacing:-0.6px">bec<span style="color:#62a93a">au</span>se</div>
<div>l<span style="color:#62a93a">au</span>ndry</div>
<div><span style="color:#62a93a">au</span>tumn</div>
<div><span style="color:#62a93a">au</span>to</div>
<div><span style="color:#62a93a">au</span>thor</div>
<div>t<span style="color:#62a93a">au</span>ght</div>
<div>s<span style="color:#62a93a">au</span>ce</div>
</div>
<div style="position:absolute;left:89.50px;top:70.20px;width:58.20px;height:277.40px;box-shadow:inset 0 0 0 1.8px #000;background:#fff;box-sizing:border-box"></div>
<div class="tb" style="position:absolute;left:89.50px;top:71.16px;width:58.20px;text-align:center;font-size:13.4px;line-height:19.4px;font-weight:bold;color:#111;white-space:nowrap">
<div><span style="color:#b41a28;text-decoration:underline;text-decoration-thickness:1.5px;text-underline-offset:1.3px">oo</span></div>
<div>b<span style="color:#b41a28">oo</span>k</div>
<div>l<span style="color:#b41a28">oo</span>k</div>
<div>c<span style="color:#b41a28">oo</span>k</div>
<div>t<span style="color:#b41a28">oo</span>k</div>
<div>h<span style="color:#b41a28">oo</span>k</div>
<div>sh<span style="color:#b41a28">oo</span>k</div>
<div>f<span style="color:#b41a28">oo</span>t</div>
<div>g<span style="color:#b41a28">oo</span>d</div>
<div>st<span style="color:#b41a28">oo</span>d</div>
<div>h<span style="color:#b41a28">oo</span>d</div>
<div>w<span style="color:#b41a28">oo</span>d</div>
<div>r<span style="color:#b41a28">oo</span>k</div>
<div>w<span style="color:#b41a28">oo</span>l</div>
</div>
<div style="position:absolute;left:89.50px;top:355.60px;width:58.20px;height:86.00px;box-shadow:inset 0 0 0 1.8px #000;background:#fff;box-sizing:border-box"></div>
<div class="tb" style="position:absolute;left:89.50px;top:355.86px;width:58.20px;text-align:center;font-size:13.4px;line-height:19.4px;font-weight:bold;color:#111;white-space:nowrap">
<div><span style="color:#b41a28;text-decoration:underline;text-decoration-thickness:1.5px;text-underline-offset:1.3px">ou</span></div>
<div>c<span style="color:#b41a28">ou</span>ld</div>
<div>w<span style="color:#b41a28">ou</span>ld</div>
<div>sh<span style="color:#b41a28">ou</span>ld</div>
</div>
<div style="position:absolute;left:157.10px;top:70.20px;width:58.20px;height:371.40px;box-shadow:inset 0 0 0 1.8px #000;background:#fff;box-sizing:border-box"></div>
<div class="tb" style="position:absolute;left:157.10px;top:71.16px;width:58.20px;text-align:center;font-size:13.4px;line-height:19.4px;font-weight:bold;color:#111;white-space:nowrap">
<div><span style="color:#1f6db4;text-decoration:underline;text-decoration-thickness:1.5px;text-underline-offset:1.3px">oo</span></div>
<div>t<span style="color:#1f6db4">oo</span></div>
<div>s<span style="color:#1f6db4">oo</span>n</div>
<div>f<span style="color:#1f6db4">oo</span>d</div>
<div>r<span style="color:#1f6db4">oo</span>m</div>
<div>c<span style="color:#1f6db4">oo</span>l</div>
<div>sch<span style="color:#1f6db4">oo</span>l</div>
<div>m<span style="color:#1f6db4">oo</span>n</div>
<div>sp<span style="color:#1f6db4">oo</span>n</div>
<div>b<span style="color:#1f6db4">oo</span>t</div>
<div>t<span style="color:#1f6db4">oo</span>l</div>
<div>p<span style="color:#1f6db4">oo</span>l</div>
<div>br<span style="color:#1f6db4">oo</span>m</div>
<div>t<span style="color:#1f6db4">oo</span>th</div>
<div>z<span style="color:#1f6db4">oo</span></div>
<div>z<span style="color:#1f6db4">oo</span>m</div>
<div>bl<span style="color:#1f6db4">oo</span>m</div>
<div>ch<span style="color:#1f6db4">oo</span>se</div>
<div>pr<span style="color:#1f6db4">oo</span>f</div>
</div>
<div style="position:absolute;left:224.90px;top:70.20px;width:58.20px;height:219.20px;box-shadow:inset 0 0 0 1.8px #000;background:#fff;box-sizing:border-box"></div>
<div class="tb" style="position:absolute;left:224.90px;top:71.16px;width:58.20px;text-align:center;font-size:13.4px;line-height:19.4px;font-weight:bold;color:#111;white-space:nowrap">
<div><span style="color:#d98b2c;text-decoration:underline;text-decoration-thickness:1.5px;text-underline-offset:1.3px">oi</span></div>
<div><span style="color:#d98b2c">oi</span>l</div>
<div>c<span style="color:#d98b2c">oi</span>n</div>
<div>j<span style="color:#d98b2c">oi</span>n</div>
<div>f<span style="color:#d98b2c">oi</span>l</div>
<div>b<span style="color:#d98b2c">oi</span>l</div>
<div>sp<span style="color:#d98b2c">oi</span>l</div>
<div>p<span style="color:#d98b2c">oi</span>nt</div>
<div>n<span style="color:#d98b2c">oi</span>se</div>
<div>v<span style="color:#d98b2c">oi</span>ce</div>
<div>ch<span style="color:#d98b2c">oi</span>ce</div>
</div>
<div style="position:absolute;left:224.90px;top:298.20px;width:58.20px;height:143.40px;box-shadow:inset 0 0 0 1.8px #000;background:#fff;box-sizing:border-box"></div>
<div class="tb" style="position:absolute;left:224.90px;top:299.66px;width:58.20px;text-align:center;font-size:13.4px;line-height:19.4px;font-weight:bold;color:#111;white-space:nowrap">
<div><span style="color:#d98b2c;text-decoration:underline;text-decoration-thickness:1.5px;text-underline-offset:1.3px">oy</span></div>
<div>t<span style="color:#d98b2c">oy</span></div>
<div>b<span style="color:#d98b2c">oy</span></div>
<div>j<span style="color:#d98b2c">oy</span></div>
<div>enj<span style="color:#d98b2c">oy</span></div>
<div>r<span style="color:#d98b2c">oy</span>al</div>
<div>v<span style="color:#d98b2c">oy</span>age</div>
</div>
<div style="position:absolute;left:292.90px;top:70.20px;width:58.20px;height:181.70px;box-shadow:inset 0 0 0 1.8px #000;background:#fff;box-sizing:border-box"></div>
<div class="tb" style="position:absolute;left:292.90px;top:71.16px;width:58.20px;text-align:center;font-size:13.4px;line-height:19.4px;font-weight:bold;color:#111;white-space:nowrap">
<div><span style="color:#6a3396;text-decoration:underline;text-decoration-thickness:1.5px;text-underline-offset:1.3px">ou</span></div>
<div><span style="color:#6a3396">ou</span>t</div>
<div>f<span style="color:#6a3396">ou</span>nd</div>
<div>h<span style="color:#6a3396">ou</span>se</div>
<div>l<span style="color:#6a3396">ou</span>d</div>
<div>cl<span style="color:#6a3396">ou</span>d</div>
<div>c<span style="color:#6a3396">ou</span>nt</div>
<div>m<span style="color:#6a3396">ou</span>th</div>
<div>s<span style="color:#6a3396">ou</span>th</div>
</div>
<div style="position:absolute;left:292.90px;top:259.80px;width:58.20px;height:181.80px;box-shadow:inset 0 0 0 1.8px #000;background:#fff;box-sizing:border-box"></div>
<div class="tb" style="position:absolute;left:292.90px;top:262.01px;width:58.20px;text-align:center;font-size:13.4px;line-height:19.1px;font-weight:bold;color:#111;white-space:nowrap">
<div><span style="color:#6a3396;text-decoration:underline;text-decoration-thickness:1.5px;text-underline-offset:1.3px">ow</span></div>
<div>n<span style="color:#6a3396">ow</span></div>
<div>h<span style="color:#6a3396">ow</span></div>
<div>br<span style="color:#6a3396">ow</span>n</div>
<div>d<span style="color:#6a3396">ow</span>n</div>
<div>t<span style="color:#6a3396">ow</span>n</div>
<div>c<span style="color:#6a3396">ow</span></div>
<div><span style="color:#6a3396">ow</span>l</div>
<div>cr<span style="color:#6a3396">ow</span>d</div>
</div>
<svg style="position:absolute;left:111.3px;top:72.6px" width="15" height="7" viewBox="0 0 15 7"><path d="M1 1 Q7.5 6 14 1" fill="none" stroke="#b41a28" stroke-width="1.5"/></svg>
<div style="position:absolute;left:178.8px;top:74.1px;width:15.4px;height:1.3px;background:#1f6db4"></div>
<div style="position:absolute;left:178.9px;top:454.32px;font-size:6px;line-height:6px;font-weight:bold;color:#111;white-space:pre;-webkit-text-stroke:0.2px">Copyright © 2021 ESL SUPPLIES LLC - All Rights Reserved</div>
<div style="position:absolute;left:181.8px;top:251px;width:0;height:0;z-index:5"><div style="position:absolute;left:0;top:0;transform:translate(-50%,-50%) rotate(-50.5deg);font-size:43.6px;line-height:1;font-weight:bold;color:#16979f;-webkit-text-stroke:0.15px #16979f;white-space:nowrap">www.ESLsupplies.com</div></div>
<div style="position:absolute;left:0;top:0;right:0;bottom:0;border-style:solid;border-color:#000;border-width:3px 3px 3px 3px;z-index:9"></div>
</div>
</body></html>
